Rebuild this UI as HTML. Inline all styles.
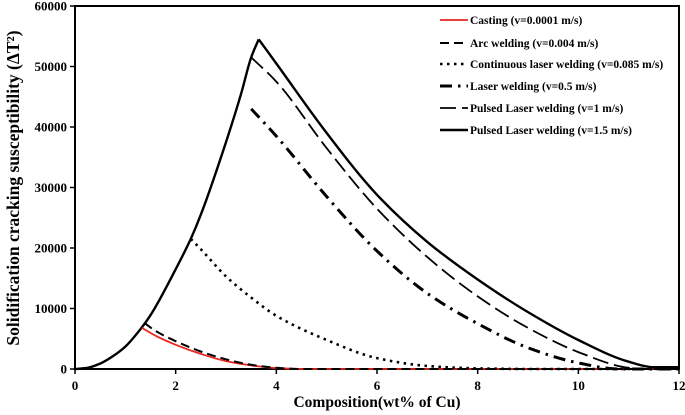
<!DOCTYPE html>
<html><head><meta charset="utf-8"><style>
body{margin:0;background:#fff;}
svg{display:block;font-family:"Liberation Serif",serif;font-weight:bold;}
</style></head><body>
<svg id="chart" width="685" height="415" viewBox="0 0 685 415" xmlns="http://www.w3.org/2000/svg">
<g id="plot"></g>
<text transform="translate(19,188) rotate(-90)" text-anchor="middle" font-size="17.5">Solidification cracking susceptibility (ΔT²)</text>
<text x="377" y="407" text-anchor="middle" font-size="15.5">Composition(wt% of Cu)</text>
</svg>
<script>
const xTicks=[0,2,4,6,8,10,12];
const yTicks=[0,10000,20000,30000,40000,50000,60000];
const riseX=[0,0.25,0.5,0.75,1,1.33,1.5,2,2.3,2.5,3,3.3,3.5,3.65];
const riseY=[0,200,900,2100,3700,6900,8900,16500,21500,25500,37500,45500,51500,54500];
const castX=[1.33,1.6,2,2.5,3,3.5,4,4.5,12];
const castY=[6800,5500,4000,2500,1300,600,150,0,0];
const arcX=[1.38,1.6,2,2.5,3,3.5,4,4.5,12];
const arcY=[7600,6300,4600,2900,1600,700,200,0,0];
const contX=[2.3,2.5,3,3.5,4,5,6,7,8,9,12];
const contY=[21500,19800,15300,11800,8800,4800,1800,500,100,0,0];
const las05X=[3.5,4,5,6,7,8,9,10,10.8,12];
const las05Y=[43000,38500,28500,19500,12500,7500,3500,1000,0,0];
const pul1X=[3.5,4,5,6,7,8,9,10,11,11.3,12];
const pul1Y=[51500,47500,36500,26500,18500,12000,6800,2800,200,0,0];
const pul15X=[3.65,4,5,6,7,8,9,10,11,11.5,12];
const pul15Y=[54500,50500,39000,28800,21000,14800,9400,4800,1200,300,300];
const legendLabels=["Casting (v=0.0001 m/s)","Arc welding (v=0.004 m/s)","Continuous laser welding (v=0.085 m/s)","Laser welding (v=0.5 m/s)","Pulsed Laser welding (v=1 m/s)","Pulsed Laser welding (v=1.5 m/s)"];

const L=75,R=679,T=6,B=369;
const sx=v=>L+(v-0)/(12-0)*(R-L);
const sy=v=>B-(v/60000)*(B-T);
const NS="http://www.w3.org/2000/svg";
const g=document.getElementById('plot');
function mk(tag,attrs){const e=document.createElementNS(NS,tag);for(const k in attrs)e.setAttribute(k,attrs[k]);g.appendChild(e);return e;}
function pathD(xs,ys){
  const n=xs.length,d=[],m=[];
  for(let i=0;i<n-1;i++)d.push((ys[i+1]-ys[i])/(xs[i+1]-xs[i]));
  for(let i=0;i<n;i++){
    if(i===0)m.push(d[0]);else if(i===n-1)m.push(d[n-2]);
    else if(d[i-1]*d[i]<=0)m.push(0);
    else{const w1=2*(xs[i+1]-xs[i])+(xs[i]-xs[i-1]),w2=(xs[i+1]-xs[i])+2*(xs[i]-xs[i-1]);m.push((w1+w2)/(w1/d[i-1]+w2/d[i]));}
  }
  let s='M'+sx(xs[0]).toFixed(1)+' '+sy(ys[0]).toFixed(1);
  for(let i=0;i<n-1;i++){
    const h=xs[i+1]-xs[i];
    s+=' C'+sx(xs[i]+h/3).toFixed(1)+' '+sy(ys[i]+m[i]*h/3).toFixed(1)+' '+sx(xs[i+1]-h/3).toFixed(1)+' '+sy(ys[i+1]-m[i+1]*h/3).toFixed(1)+' '+sx(xs[i+1]).toFixed(1)+' '+sy(ys[i+1]).toFixed(1);
  }
  return s;
}

const frame=mk('rect',{x:L,y:T,width:R-L,height:B-T,fill:'none',stroke:'#000','stroke-width':2});



xTicks.forEach(v=>{
  const t=mk('line',{x1:sx(v),x2:sx(v),y1:B,y2:B+5,stroke:'#000','stroke-width':1.5});
  
  
  const l=mk('text',{x:sx(v),y:B+21,'text-anchor':'middle','font-size':13});
  
  
  l.textContent=v;
});
yTicks.forEach(v=>{
  const t=mk('line',{x1:L-5,x2:L,y1:sy(v),y2:sy(v),stroke:'#000','stroke-width':1.5});
  
  
  const l=mk('text',{x:L-8,y:sy(v)+4.5,'text-anchor':'end','font-size':13});
  
  
  l.textContent=v;
});

const series=[
 {x:castX,y:castY,stroke:'#e8261f',dash:'',w:1.8,name:'casting-line'},
 {x:arcX,y:arcY,stroke:'#000',dash:'9 5',w:2,name:'arc-welding-line'},
 {x:contX,y:contY,stroke:'#000',dash:'2.5 4.5',w:2.6,name:'continuous-laser-line'},
 {x:las05X,y:las05Y,stroke:'#000',dash:'12 6 2.5 6',w:3,name:'laser-welding-line'},
 {x:pul1X,y:pul1Y,stroke:'#000',dash:'16 6',w:1.8,name:'pulsed-laser-1-line'},
 {x:pul15X,y:pul15Y,stroke:'#000',dash:'',w:2.4,name:'pulsed-laser-1-5-line'}
];
const rise=mk('path',{d:pathD(riseX,riseY),fill:'none',stroke:'#000','stroke-width':2.4});


series.forEach(s=>{
  const p=mk('path',{d:pathD(s.x,s.y),fill:'none',stroke:s.stroke,'stroke-width':s.w,'stroke-dasharray':s.dash});
  
  
});

const legY=[24,47,68,90,112,134];
legendLabels.forEach((lab,i)=>{
  const s=series[i];
  const ln=mk('line',{x1:440,x2:468,y1:legY[i]-4,y2:legY[i]-4,stroke:s.stroke,'stroke-width':s.w,'stroke-dasharray':s.dash});
  
  
  const t=mk('text',{x:470,y:legY[i],'font-size':11.5});
  
  
  t.textContent=lab;
});
</script>
</body></html>
